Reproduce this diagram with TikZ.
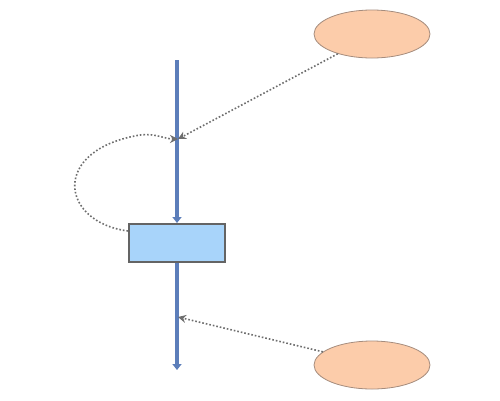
\documentclass[tikz,border=0pt]{standalone}
\usetikzlibrary{arrows.meta,shapes.geometric}
\definecolor{flowblue}{RGB}{92,126,186}
\definecolor{boxfill}{RGB}{168,212,250}
\definecolor{boxedge}{RGB}{100,100,100}
\definecolor{ellfill}{RGB}{252,204,170}
\definecolor{elledge}{RGB}{165,140,125}
\definecolor{dotgray}{RGB}{110,110,110}
\tikzset{
  flow/.style={draw=flowblue,line width=3.6pt,-{Triangle[width=9pt,length=6pt]}},
  procbox/.style={draw=boxedge,fill=boxfill,line width=2pt,minimum width=96pt,minimum height=38pt,inner sep=0pt},
  ctrl/.style={ellipse,draw=elledge,fill=ellfill,line width=0.8pt,minimum width=116pt,minimum height=48pt,inner sep=0pt},
  dotlink/.style={draw=dotgray,line width=1.6pt,dotted,-{Stealth[width=8pt,length=8pt]}}
}
\begin{document}
\begin{tikzpicture}[x=1pt,y=-1pt]
\useasboundingbox (0,0) rectangle (500,400);
\fill[white] (0,0) rectangle (500,400);
\node[procbox] (box) at (177,243) {};
\node[ctrl] (top) at (372,34) {};
\node[ctrl] (bot) at (372,365) {};
\coordinate (start) at (177,60);
\coordinate (finish) at (177,370);
\coordinate (inA) at (178,139);
\coordinate (inB) at (178,317);
\draw[flow] (start) -- (box.north);
\draw[flow] (box.south) -- (finish);
\draw[dotlink] (top.-150) -- (inA);
\draw[dotlink] (bot.165) -- (inB);
\draw[dotlink] ([yshift=12pt]box.west) .. controls (60,222) and (50,150) .. (140,135) .. controls (155,133) and (165,139) .. (inA);
\end{tikzpicture}
\end{document}
